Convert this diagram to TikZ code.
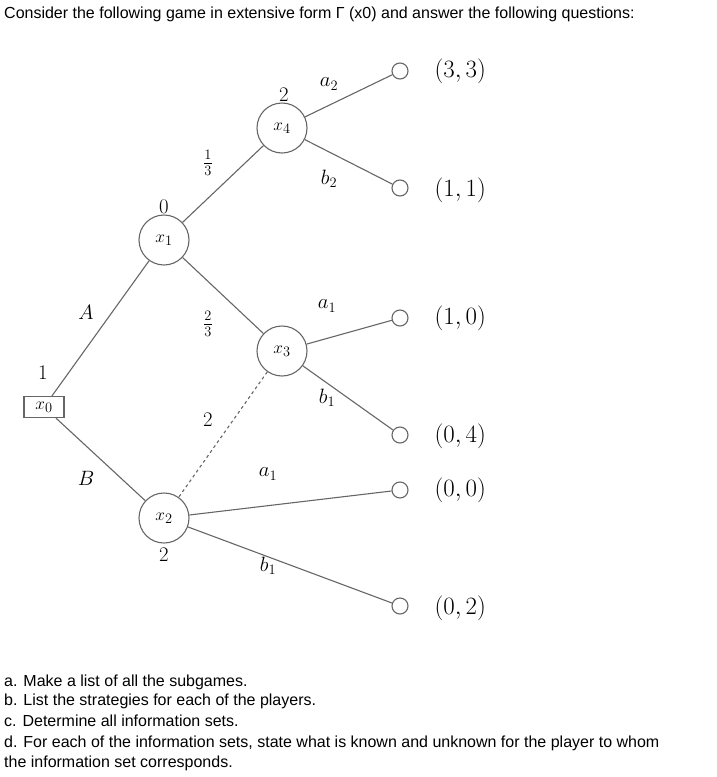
\documentclass[tikz,border=0pt]{standalone}
\usepackage{fontspec}
\newfontfamily\qfont{Liberation Sans}
\begin{document}
\begin{tikzpicture}[x=1pt,y=-1pt,
  dn/.style={draw=black!60,line width=1.1pt,circle,minimum size=50pt,inner sep=0pt,font=\fontsize{19}{19}\selectfont},
  tn/.style={draw=black!60,line width=1.1pt,circle,minimum size=16pt,inner sep=0pt},
  ed/.style={draw=black!60,line width=1.1pt},
  lb/.style={font=\fontsize{21}{21}\selectfont},
  pl/.style={font=\fontsize{23}{23}\selectfont,anchor=west},
  qt/.style={font=\qfont\fontsize{16}{18}\selectfont,anchor=west,inner sep=0pt}]
\useasboundingbox (0,0) rectangle (717,777);
\node[qt] (title) at (4,14) {Consider the following game in extensive form Γ (x0) and answer the following questions:};
\node[draw=black!60,line width=1.1pt,minimum width=40pt,minimum height=21pt,inner sep=0pt,font=\fontsize{19}{19}\selectfont] (x0) at (44,407) {$x_0$};
\node[dn] (x1) at (164,240) {$x_1$};
\node[dn] (x2) at (164,518) {$x_2$};
\node[dn] (x3) at (282,351) {$x_3$};
\node[dn] (x4) at (282,128) {$x_4$};
\node[tn] (t1) at (400,71) {};
\node[tn] (t2) at (400,188) {};
\node[tn] (t3) at (400,318) {};
\node[tn] (t4) at (400,435) {};
\node[tn] (t5) at (400,490) {};
\node[tn] (t6) at (400,606) {};
\draw[ed] (x0) -- (x1); \draw[ed] (x0) -- (x2);
\draw[ed] (x1) -- (x4); \draw[ed] (x1) -- (x3);
\draw[ed] (x4) -- (t1); \draw[ed] (x4) -- (t2);
\draw[ed] (x3) -- (t3); \draw[ed] (x3) -- (t4);
\draw[ed] (x2) -- (t5); \draw[ed] (x2) -- (t6);
\draw[ed,dashed] (x3) -- (x2);
\node[lb] (l1) at (43,373) {$1$};
\node[lb] (l0) at (164,207) {$0$};
\node[lb] (l2a) at (284,95) {$2$};
\node[lb] (l2b) at (164,555) {$2$};
\node[lb] (l2c) at (208,420) {$2$};
\node[lb] (lA) at (86,312) {$A$};
\node[lb] (lB) at (86,478) {$B$};
\node[lb] (lp1) at (208,163) {$\frac13$};
\node[lb] (lp2) at (208,324) {$\frac23$};
\node[lb] (la2) at (329,84) {$a_2$};
\node[lb] (lb2) at (329,179) {$b_2$};
\node[lb] (la1) at (327,306) {$a_1$};
\node[lb] (lb1) at (327,398) {$b_1$};
\node[lb] (la1b) at (268,474) {$a_1$};
\node[lb] (lb1b) at (268,566) {$b_1$};
\node[pl] (p1) at (431,71) {$(3,3)$};
\node[pl] (p2) at (431,190) {$(1,1)$};
\node[pl] (p3) at (431,318) {$(1,0)$};
\node[pl] (p4) at (431,436) {$(0,4)$};
\node[pl] (p5) at (431,490) {$(0,0)$};
\node[pl] (p6) at (431,608) {$(0,2)$};
\node[qt] (qa) at (4,682) {a. Make a list of all the subgames.};
\node[qt] (qb) at (4,701) {b. List the strategies for each of the players.};
\node[qt] (qc) at (4,721) {c. Determine all information sets.};
\node[qt] (qd) at (4,743) {d. For each of the information sets, state what is known and unknown for the player to whom};
\node[qt] (qe) at (4,763) {the information set corresponds.};
\end{tikzpicture}
\end{document}
